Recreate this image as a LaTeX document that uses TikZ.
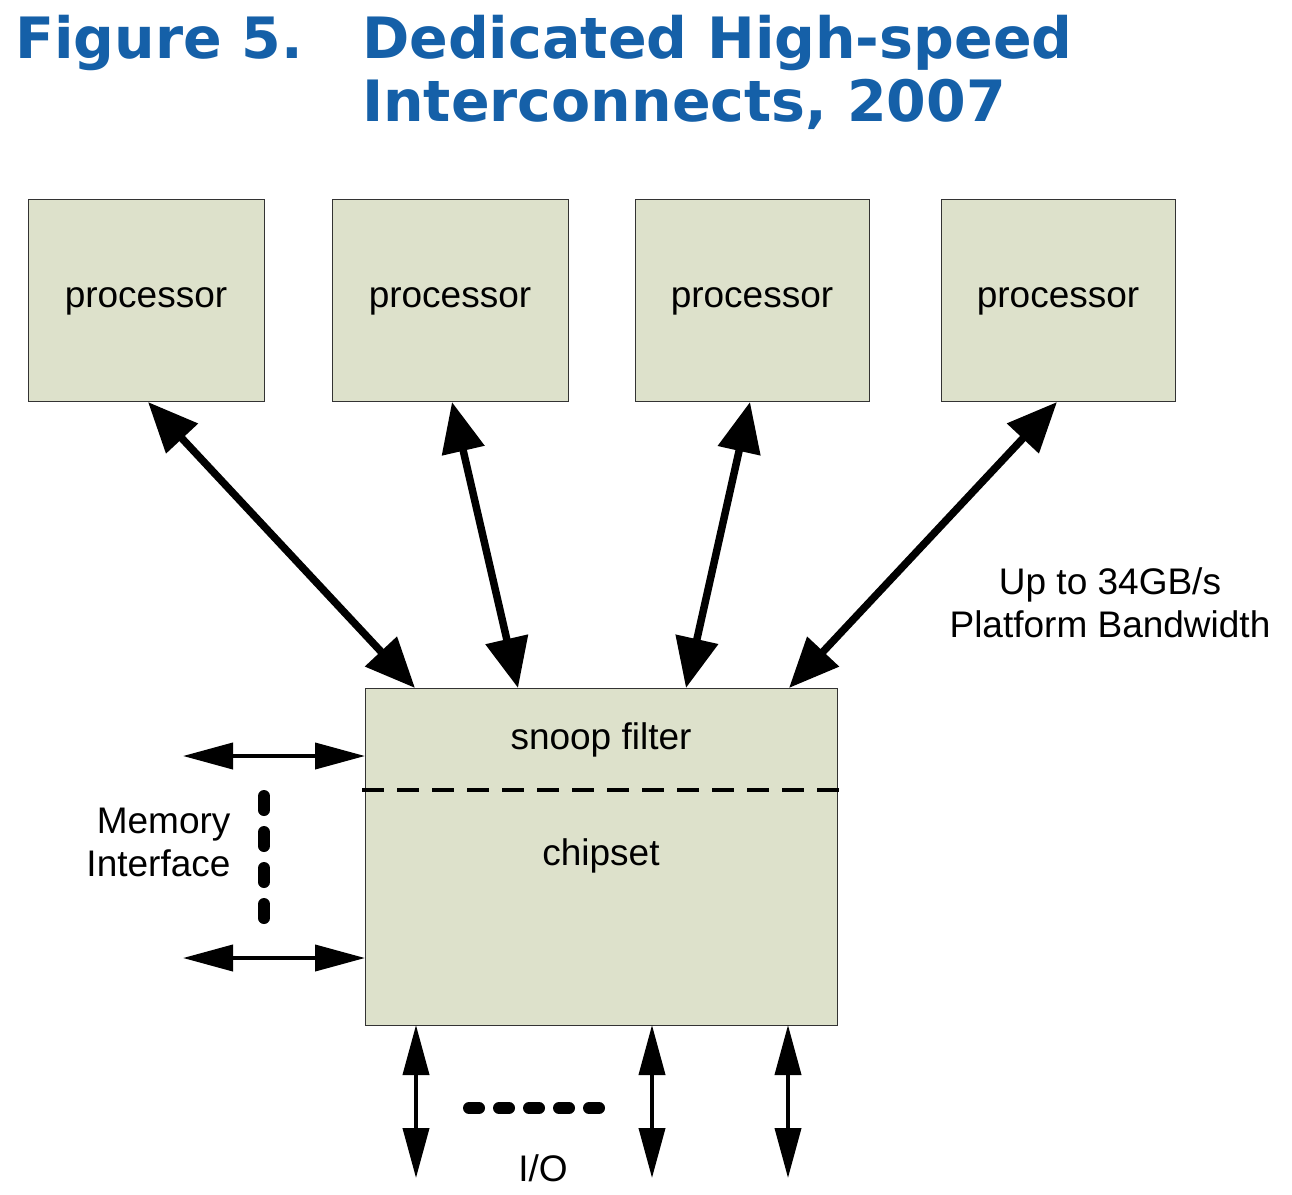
\documentclass[tikz,border=0pt]{standalone}
\usepackage{fontspec}
\setmainfont{Liberation Sans}
\newfontfamily\titlefont{DejaVu Sans}
\usetikzlibrary{arrows.meta}
\definecolor{boxfill}{HTML}{DDE1CB}
\definecolor{titleblue}{HTML}{1560A8}
\begin{document}
\begin{tikzpicture}[x=1pt,y=-1pt,
  box/.style={draw=black!80,line width=0.8pt,fill=boxfill},
  lbl/.style={font=\fontsize{37}{43}\selectfont,align=center},
  ttl/.style={anchor=base west,font=\titlefont\bfseries\fontsize{57}{64}\selectfont,text=titleblue,inner sep=0},
  big/.style={line width=7.5pt,{Triangle[length=50pt,width=42pt]}-{Triangle[length=50pt,width=42pt]}},
  small/.style={line width=4pt,{Triangle[length=50pt,width=26pt]}-{Triangle[length=50pt,width=26pt]}},
  dots/.style={line width=12pt,line cap=round}]
\useasboundingbox (0,0) rectangle (1292,1194);
\node[ttl] (t1) at (15,58) {Figure 5.};
\node[ttl] (t2) at (362,58) {Dedicated High-speed};
\node[ttl] (t3) at (362,121) {Interconnects, 2007};
\foreach \n/\a/\b in {1/28/264,2/332/568,3/635/869,4/941/1175}{
  \draw[box] (\a,199) rectangle (\b,401);
  \node[lbl] (p\n) at ({(\a+\b)/2},301) {processor};
}
\draw[box] (365,688) rectangle (837,1025);
\draw[line width=4pt,dash pattern=on 22pt off 13pt] (362,790) -- (840,790);
\node[lbl] (sf) at (601,740) {snoop filter};
\node[lbl] (cs) at (601,856) {chipset};
\coordinate (a1) at (148,402); \coordinate (b1) at (415,688);
\coordinate (a2) at (452,402); \coordinate (b2) at (518,688);
\coordinate (a3) at (750,402); \coordinate (b3) at (686,688);
\coordinate (a4) at (1057,402); \coordinate (b4) at (789,688);
\foreach \i in {1,2,3,4}{\draw[big] (a\i) -- (b\i);}
\coordinate (m1a) at (183,756); \coordinate (m1b) at (365,756);
\coordinate (m2a) at (183,958); \coordinate (m2b) at (365,958);
\draw[small] (m1a) -- (m1b);
\draw[small] (m2a) -- (m2b);
\draw[dots,dash pattern=on 14pt off 22pt] (264,796) -- (264,918);
\foreach \x in {416,652,788}{
  \coordinate (i\x a) at (\x,1025); \coordinate (i\x b) at (\x,1178);
  \draw[small] (i\x a) -- (i\x b);}
\draw[dots,dash pattern=on 10pt off 20pt] (469,1108) -- (599,1108);
\node[lbl,align=right,anchor=east] (mi) at (234,842) {Memory\\Interface};
\node[lbl] (io) at (543,1168) {I/O};
\node[lbl] (bw) at (1110,603) {Up to 34GB/s\\Platform Bandwidth};
\end{tikzpicture}
\end{document}
